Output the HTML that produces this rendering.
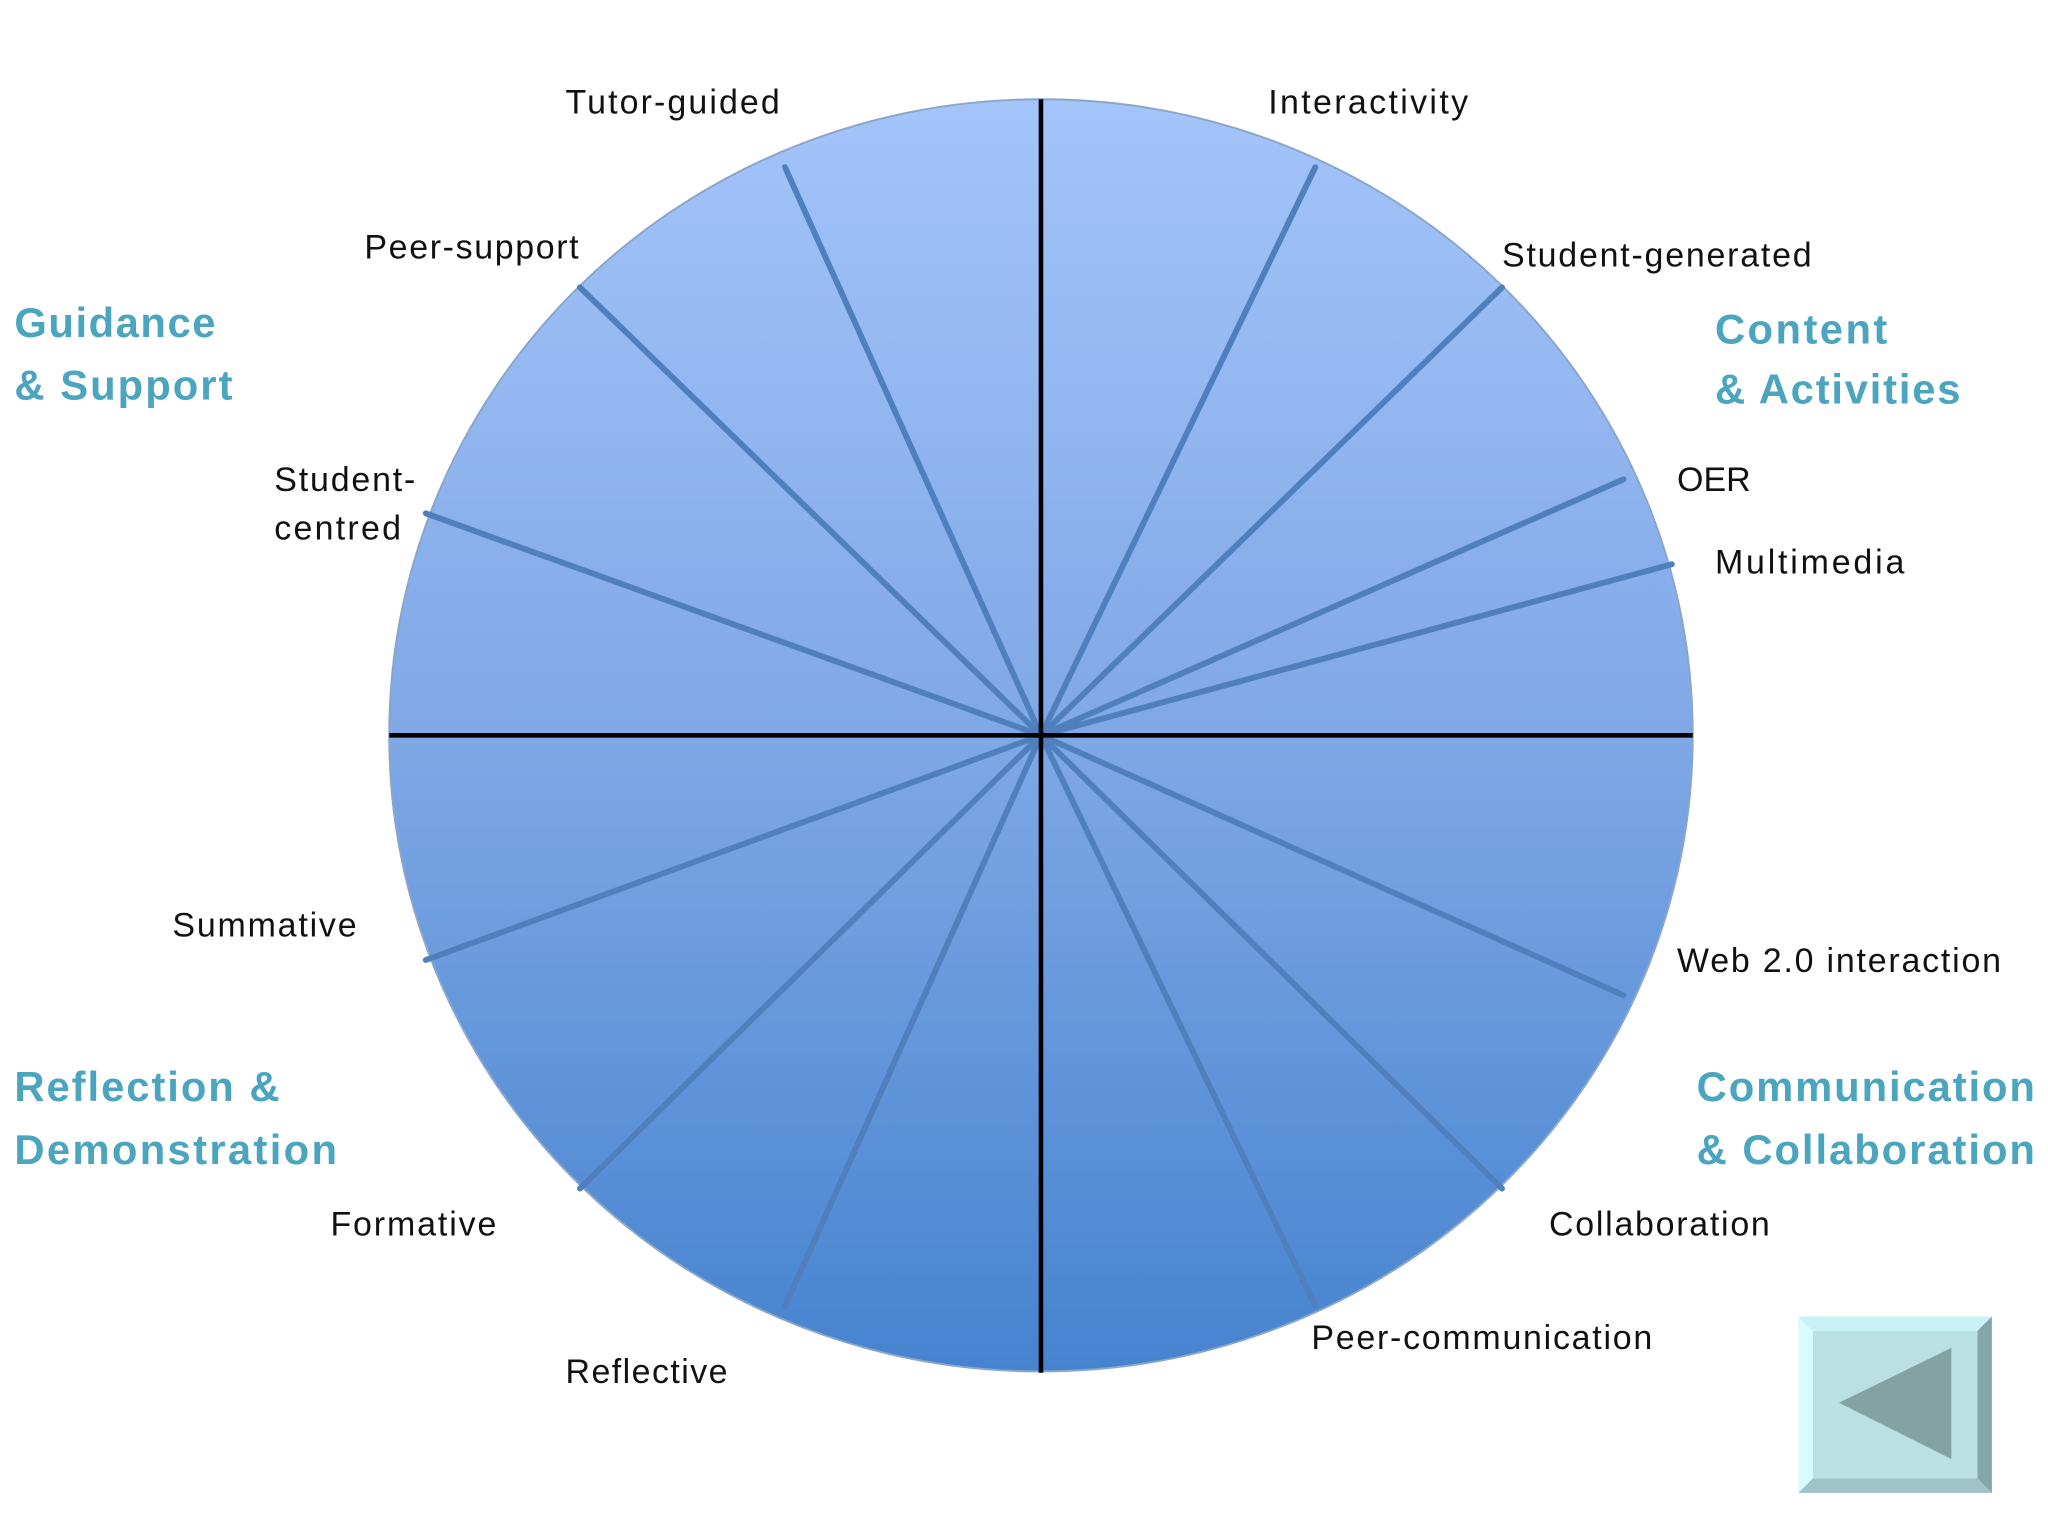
<!DOCTYPE html>
<html><head><meta charset="utf-8"><style>
html,body{margin:0;padding:0;background:#fff;}
svg{display:block;}
text{font-family:"Liberation Sans",sans-serif;}
.l{font-size:26px;fill:#111;}
.h{font-size:32px;font-weight:bold;fill:#4ba5bf;}
</style></head><body>
<svg width="2048" height="1536" viewBox="0 0 1568 1176" preserveAspectRatio="none" xmlns="http://www.w3.org/2000/svg">
<defs>
<linearGradient id="g" x1="0" y1="0" x2="0" y2="1">
<stop offset="0" stop-color="#a4c4fa"/>
<stop offset="0.5" stop-color="#7fa8e6"/>
<stop offset="1" stop-color="#4683cf"/>
</linearGradient>
</defs>
<ellipse cx="797" cy="563" rx="499" ry="487" fill="url(#g)" stroke="#8aa6c8" stroke-width="1.5"/>
<g stroke="#4f7fbd" stroke-width="4.5" stroke-linecap="round">
<line x1="797" y1="563" x2="601" y2="128"/>
<line x1="797" y1="563" x2="444" y2="220"/>
<line x1="797" y1="563" x2="326" y2="393"/>
<line x1="797" y1="563" x2="1007" y2="128"/>
<line x1="797" y1="563" x2="1150" y2="220"/>
<line x1="797" y1="563" x2="1243" y2="367"/>
<line x1="797" y1="563" x2="1280" y2="432"/>
<line x1="797" y1="563" x2="1243" y2="762"/>
<line x1="797" y1="563" x2="1150" y2="910"/>
<line x1="797" y1="563" x2="1007" y2="1000"/>
<line x1="797" y1="563" x2="326" y2="735"/>
<line x1="797" y1="563" x2="444" y2="910"/>
<line x1="797" y1="563" x2="601" y2="1000"/>
</g>
<g stroke="#000" stroke-width="3.5">
<line x1="797" y1="76" x2="797" y2="1051"/>
<line x1="298" y1="563" x2="1296" y2="563"/>
</g>
<text class="l" x="433" y="87" textLength="164">Tutor-guided</text>
<text class="l" x="971" y="87" textLength="153">Interactivity</text>
<text class="l" x="279" y="198" textLength="164">Peer-support</text>
<text class="l" x="1150" y="204" textLength="237">Student-generated</text>
<text class="l" x="210" y="376" textLength="108">Student-</text>
<text class="l" x="210" y="413" textLength="97">centred</text>
<text class="l" x="1284" y="376">OER</text>
<text class="l" x="1313" y="439" textLength="145">Multimedia</text>
<text class="l" x="132" y="717" textLength="141">Summative</text>
<text class="l" x="1284" y="744" textLength="248">Web 2.0 interaction</text>
<text class="l" x="253" y="946" textLength="127">Formative</text>
<text class="l" x="1186" y="946" textLength="169">Collaboration</text>
<text class="l" x="433" y="1059" textLength="124">Reflective</text>
<text class="l" x="1004" y="1033" textLength="261">Peer-communication</text>
<text class="h" x="11" y="258" textLength="154">Guidance</text>
<text class="h" x="11" y="306" textLength="167">&amp; Support</text>
<text class="h" x="1313" y="263" textLength="132">Content</text>
<text class="h" x="1313" y="309" textLength="188">&amp; Activities</text>
<text class="h" x="11" y="843" textLength="203">Reflection &amp;</text>
<text class="h" x="11" y="891" textLength="247">Demonstration</text>
<text class="h" x="1299" y="843" textLength="259">Communication</text>
<text class="h" x="1299" y="891" textLength="259">&amp; Collaboration</text>
<g>
<rect x="1377" y="1008" width="148" height="135" fill="#bbdfe3"/>
<polygon points="1377,1008 1525,1008 1514,1019 1388,1019" fill="#caf2f6"/>
<polygon points="1377,1008 1388,1019 1388,1132 1377,1143" fill="#d8fbff"/>
<polygon points="1525,1008 1525,1143 1514,1132 1514,1019" fill="#84a6a9"/>
<polygon points="1377,1143 1388,1132 1514,1132 1525,1143" fill="#a1c3c6"/>
<polygon points="1408,1074 1494,1032 1494,1117" fill="#84a1a4"/>
</g>
</svg>
</body></html>
